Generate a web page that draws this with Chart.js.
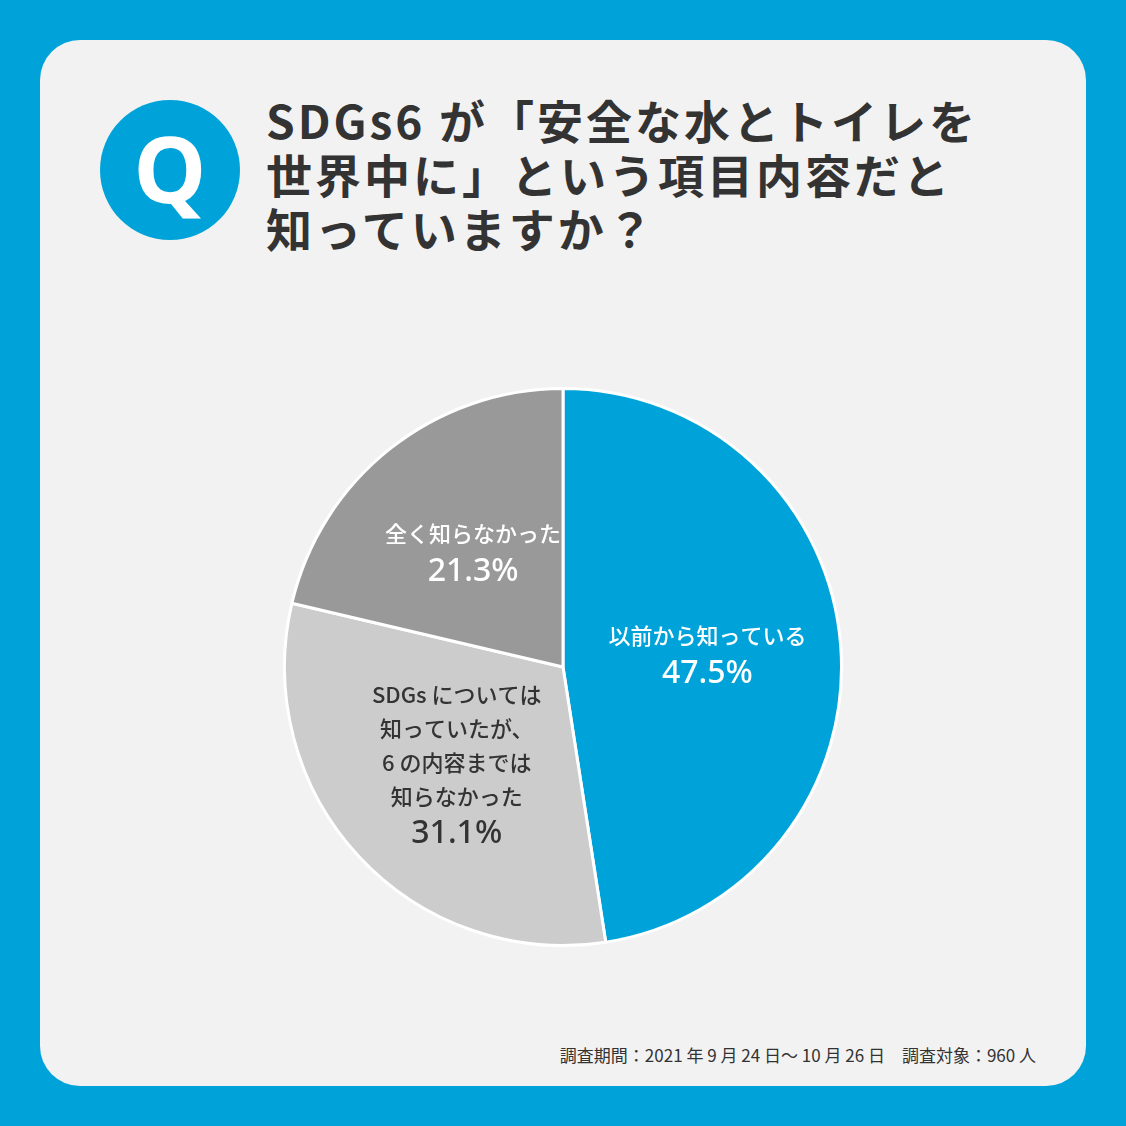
<!DOCTYPE html>
<html><head><meta charset="utf-8">
<script src="https://cdn.jsdelivr.net/npm/chart.js@4"></script>
<style>
body{margin:0;width:1126px;height:1126px;background:#00A3D9;font-family:"Noto Sans CJK JP",sans-serif;overflow:hidden}
#panel{position:absolute;left:40px;top:40px;width:1046px;height:1046px;background:#F2F2F2;border-radius:40px}
#q{position:absolute;left:100px;top:100px;width:140px;height:140px;border-radius:50%;background:#00A3D9;color:#fff;font:bold 92px "Noto Sans",sans-serif;text-align:center;line-height:136px}
#title{position:absolute;left:266px;top:92px;font-weight:bold;font-size:46px;line-height:54px;color:#333;letter-spacing:3px}
#foot{position:absolute;right:90px;top:1042px;font-size:17px;color:#333}
#wrap{position:absolute;left:281px;top:385px;width:564px;height:564px}
</style></head><body>
<div id="panel"></div>
<div id="q">Q</div>
<div id="title">SDGs6 が「安全な水とトイレを<br>世界中に」という項目内容だと<br>知っていますか？</div>
<div id="foot">調査期間：2021 年 9 月 24 日～ 10 月 26 日　調査対象：960 人</div>
<div id="wrap"><canvas id="c"></canvas></div>
<script>
const categories=[["以前から知っている"],["SDGs については","知っていたが、","6 の内容までは","知らなかった"],["全く知らなかった"]];
const values=[47.5,31.1,21.3];
const colors=["#00A3D9","#CCCCCC","#999999"];
const textColors=["#fff","#333","#fff"];
const labelPlugin={id:"lbl",afterDatasetsDraw(chart){
 const ctx=chart.ctx;const meta=chart.getDatasetMeta(0);
 meta.data.forEach((arc,i)=>{
  const mid=(arc.startAngle+arc.endAngle)/2;const r=arc.outerRadius*0.52;
  const x=arc.x+Math.cos(mid)*r,y=arc.y+Math.sin(mid)*r;
  const lines=categories[i];const lh=34;
  const total=lines.length*lh+40;let yy=y-total/2+lh/2;
  ctx.save();ctx.fillStyle=textColors[i];ctx.textAlign="center";ctx.textBaseline="middle";
  ctx.font='500 22px "Noto Sans CJK JP"';
  lines.forEach(l=>{ctx.fillText(l,x,yy);yy+=lh;});
  ctx.font='500 32px "Noto Sans"';ctx.fillText(values[i].toFixed(1)+"%",x,yy+4);
  ctx.restore();});
}};
new Chart(document.getElementById("c"),{type:"pie",
 data:{labels:categories.map(c=>c.join("")),datasets:[{data:values,backgroundColor:colors,borderColor:"#fff",borderWidth:3}]},
 options:{responsive:true,maintainAspectRatio:false,animation:false,plugins:{legend:{display:false},tooltip:{enabled:false}},layout:{padding:2}},
 plugins:[labelPlugin]});
</script></body></html>
